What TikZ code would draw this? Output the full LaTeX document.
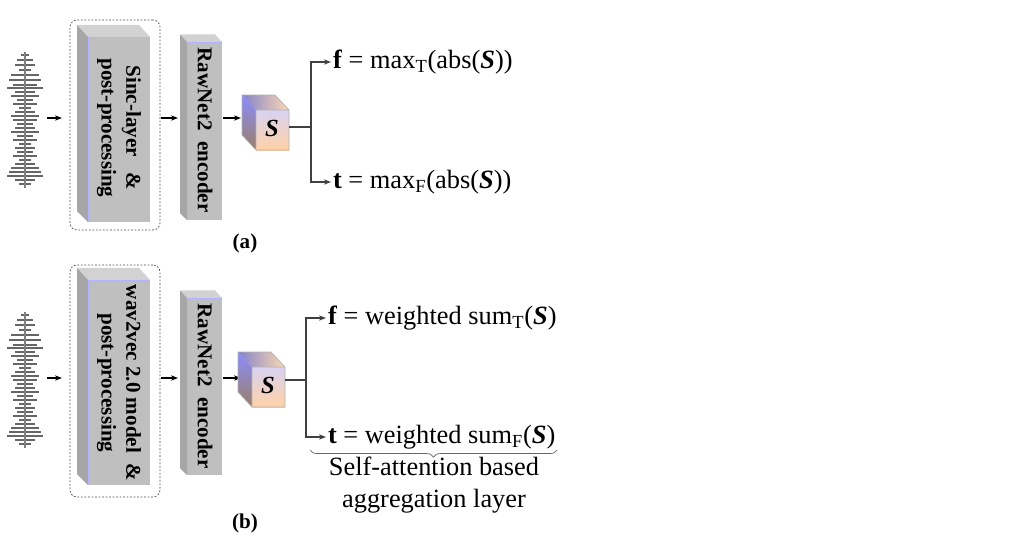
\documentclass[tikz,border=0pt]{standalone}
\usepackage{fontspec}
\setmainfont{Liberation Serif}
\usetikzlibrary{arrows.meta,decorations.pathreplacing}
\newcommand{\bS}{\textbf{\textit{S}}}
\begin{document}
\begin{tikzpicture}[x=0.02cm,y=-0.02cm,
  arr/.style={-{Stealth[length=4pt,width=3pt]},line width=0.7pt},
  conn/.style={line width=0.8pt,draw=black!75},
  blocktext/.style={rotate=-90,font=\bfseries\fontsize{12}{14}\selectfont,align=center},
  eq/.style={anchor=west,font=\fontsize{15}{18}\selectfont,inner sep=1pt},
  dbox/.style={draw=black!70,dashed,dash pattern=on 1pt off 1pt,rounded corners=4pt}]
\useasboundingbox (0,0) rectangle (1017,539);
\newcommand{\wave}[1]{%
  \begin{scope}[yshift=#1*-0.02cm]
  \foreach \yy/\w in {55/4,60/8,65/10,70/6,75/14,80/16,85/12,88/18,92/10,96/14,100/8,104/12,108/6,112/10,116/14,120/12,124/8,128/10,132/14,136/8,140/12,144/6,148/10,152/8,156/12,160/6,164/10,168/14,172/16,176/18,180/10,184/6}
    \draw[gray!80!black,line width=1.3pt] (25-\w,\yy) -- (25+\w,\yy);
  \draw[gray,line width=0.8pt] (25,52) -- (25,188);
  \end{scope}}
\newcommand{\blk}[5]{% x1 y1 x2 y2 depth
  \fill[gray!35] (#1-#5,#2-#5*1.1) -- (#3-#5,#2-#5*1.1) -- (#3,#2) -- (#1,#2) -- cycle;
  \fill[gray!70] (#1-#5,#2-#5*1.1) -- (#1,#2) -- (#1,#4) -- (#1-#5,#4-#5) -- cycle;
  \fill[gray!50] (#1,#2) rectangle (#3,#4);
  \draw[blue!30,line width=0.4pt] (#1,#2) -- (#3,#2) (#1,#2) -- (#1,#4);}
\newcommand{\cube}[2]{% front top-left x y
  \shade[left color=blue!40!gray!70, right color=orange!30] (#1-14,#2-15) -- (#1+19,#2-15) -- (#1+33,#2) -- (#1,#2) -- cycle;
  \shade[top color=blue!45!white, bottom color=gray!80!orange] (#1-14,#2-15) -- (#1,#2) -- (#1,#2+40) -- (#1-14,#2+25) -- cycle;
  \shade[top color=orange!25!blue!20, bottom color=orange!35] (#1,#2) rectangle (#1+33,#2+40);
  \draw[gray!60,line width=0.4pt] (#1-14,#2-15) -- (#1+19,#2-15) -- (#1+33,#2) -- (#1+33,#2+40) -- (#1,#2+40) -- (#1-14,#2+25) -- cycle (#1,#2) -- (#1+33,#2) (#1,#2) -- (#1,#2+40);}
% ---------- (a)
\wave{0}
\node[dbox,minimum width=90*0.02cm,minimum height=210*0.02cm] (da) at (115,125) {};
\blk{88}{37}{150}{222}{11}
\node[blocktext] (sa) at (119,128) {Sinc-layer \ \ \&\\post-processing};
\blk{187}{42}{222}{220}{7}
\node[blocktext] (ra) at (205,130) {RawNet2\ \ encoder};
\coordinate (wa) at (47,118);
\coordinate (da0) at (62,118);
\draw[arr] (wa) -- (da0);
\coordinate (d1) at (161,118); \coordinate (r1) at (178,118);
\draw[arr] (d1) -- (r1);
\coordinate (r2) at (223,118); \coordinate (c1) at (241,118);
\draw[arr] (r2) -- (c1);
\cube{256}{110}
\node[font=\bfseries\itshape\fontsize{14}{16}\selectfont] (sA) at (272,128) {S};
\coordinate (ca) at (289,127); \coordinate (ja) at (311,127);
\node[eq] (fa) at (331,62) {\textbf{f} = max\textsubscript{T}(abs(\bS))};
\node[eq] (ta) at (331,182) {\textbf{t} = max\textsubscript{F}(abs(\bS))};
\draw[conn] (ca) -- (ja);
\draw[conn,arr] (ja) |- (fa.west);
\draw[conn,arr] (ja) |- (ta.west);
\node[font=\bfseries\fontsize{12}{14}\selectfont] (la) at (245,243) {(a)};
% ---------- (b)
\wave{260}
\node[dbox,minimum width=90*0.02cm,minimum height=232*0.02cm] (db) at (115,381) {};
\blk{88}{280}{150}{485}{11}
\node[blocktext] (sb) at (119,383) {wav2vec 2.0 model \ \&\\post-processing};
\blk{187}{298}{222}{475}{7}
\node[blocktext] (rb) at (205,386) {RawNet2\ \ encoder};
\coordinate (wb) at (47,378); \coordinate (db0) at (62,378);
\draw[arr] (wb) -- (db0);
\coordinate (d2) at (161,378); \coordinate (r3) at (178,378);
\draw[arr] (d2) -- (r3);
\coordinate (r4) at (223,378); \coordinate (c2) at (241,378);
\draw[arr] (r4) -- (c2);
\cube{252}{367}
\node[font=\bfseries\itshape\fontsize{14}{16}\selectfont] (sB) at (268,385) {S};
\coordinate (cb) at (285,380); \coordinate (jb) at (306,380);
\node[eq] (fb) at (326,318) {\textbf{f} = weighted sum\textsubscript{T}(\bS)};
\node[eq] (tb) at (326,437) {\textbf{t} = weighted sum\textsubscript{F}(\bS)};
\draw[conn] (cb) -- (jb);
\draw[conn,arr] (jb) |- (fb.west);
\draw[conn,arr] (jb) |- (tb.west);
\coordinate (b1) at (310,450); \coordinate (b2) at (557,450);
\draw[black!60,decorate,decoration={brace,mirror,amplitude=4pt}] (b1) -- (b2);
\node[font=\fontsize{15}{18}\selectfont,align=center] (sal) at (434,485) {Self-attention based\\aggregation layer};
\node[font=\bfseries\fontsize{12}{14}\selectfont] (lb) at (245,523) {(b)};
\end{tikzpicture}
\end{document}
